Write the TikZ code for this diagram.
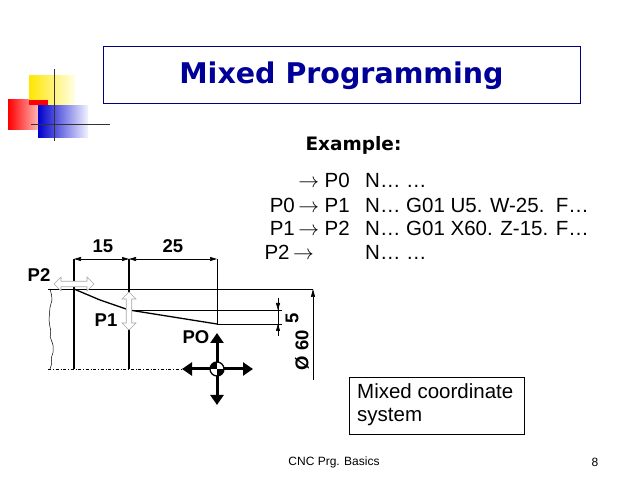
\documentclass[tikz,border=0pt]{standalone}
\usepackage{fontspec}
\setmainfont{Liberation Sans}
\newfontfamily\tah{DejaVu Sans}
\usetikzlibrary{arrows.meta,shapes.arrows,decorations.pathmorphing}
\begin{document}
\begin{tikzpicture}[x=1pt,y=-1pt,
  body/.style={font=\fontsize{20.5}{23}\selectfont,inner sep=0pt},
  lbl/.style={font=\fontsize{18.5}{19}\selectfont\bfseries,inner sep=0pt},
  dim/.style={line width=0.7pt,{Triangle[length=7pt,width=4pt]}-{Triangle[length=7pt,width=4pt]}},
  hollow/.style={double arrow,draw=gray!70,fill=white,line width=0.6pt,minimum height=40pt,minimum width=14pt,double arrow head extend=2pt,inner sep=1pt},
  thick arrow/.style={line width=3pt,-{Triangle[length=10pt,width=13pt]}}]
\useasboundingbox (0,0) rectangle (638,478);
% decoration
\shade[left color=red,right color=red!5] (8,100) rectangle (48,130);
\shade[left color=yellow!80!orange,right color=yellow!10] (29,76) rectangle (75,105);
\fill[red] (29,100) rectangle (48,105);
\shade[left color=blue!80!black,right color=blue!5] (38,106) rectangle (88,138);
\draw[line width=1pt,black!80] (54,69) -- (54,141);
\draw[line width=1pt,black!80] (31,125) -- (110,125);
% title
\node[draw=blue!50!black,line width=1pt,minimum width=477pt,minimum height=57pt,inner sep=0pt] (title) at (341.5,75.5) {};
\node[font=\tah\fontsize{28.5}{30}\selectfont\bfseries,text=blue!60!black] (tt) at (title) {Mixed Programming};
% example
\node[font=\tah\fontsize{18.5}{20}\selectfont\bfseries,anchor=west] (ex) at (302,145) {Example:};
\node[body,anchor=east] (a1) at (350,180) {$\rightarrow$ P0};
\node[body,anchor=east] (a2) at (350,205) {P0$\,\rightarrow$ P1};
\node[body,anchor=east] (a3) at (350,228) {P1$\,\rightarrow$ P2};
\node[body,anchor=east] (a4) at (314,252) {P2$\,\rightarrow$};
\node[body,anchor=west] (b1) at (365,180) {N… …};
\node[body,anchor=west] (b2) at (365,205) {N… G01 U5. W-25.\ \ F…};
\node[body,anchor=west] (b3) at (365,228) {N… G01 X60. Z-15. F…};
\node[body,anchor=west] (b4) at (365,252) {N… …};
% drawing
\coordinate (P2) at (74,289);
\coordinate (P1) at (129,310);
\coordinate (P0) at (217,324);
\coordinate (C) at (217,369);
\draw[line width=0.8pt] (48,289) -- (313,289);
\draw[decorate,decoration={random steps,segment length=6pt,amplitude=1.5pt},line width=0.5pt] (50,289) -- (52,300) -- (49,320) -- (53,345) -- (50,369);
\draw[line width=0.5pt,dash dot] (48,369) -- (205,369);
\draw[line width=1.2pt] (74,259) -- (74,369);
\draw[line width=1.2pt] (129,259) -- (129,369);
\draw[line width=0.8pt] (217,259) -- (P0);
\draw[line width=1.3pt] (P2) -- (100,300) -- (P1) -- (P0);
\draw[line width=0.6pt] (P1) -- (282,310);
\draw[line width=0.6pt] (P0) -- (282,324);
\draw[dim] (74,259) -- (129,259);
\draw[dim] (129,259) -- (217,259);
\node[lbl] (l15) at (103,246) {15};
\node[lbl] (l25) at (173,246) {25};
\draw[line width=0.6pt,{Triangle[length=7pt,width=4pt]}-] (278,310) -- (278,298);
\draw[line width=0.6pt,{Triangle[length=7pt,width=4pt]}-] (278,324) -- (278,336);
\draw[line width=0.6pt] (278,298) -- (278,336);
\node[lbl,rotate=90] (l5) at (292,318) {5};
\draw[line width=0.7pt,-{Triangle[length=8pt,width=4pt]}] (313,380) -- (313,289);
\node[lbl,rotate=90] (l60) at (302,350) {\O\ 60};
\node[lbl] (lp2) at (39,275) {P2};
\node[lbl] (lp1) at (106,320) {P1};
\node[lbl] (lp0) at (196,337) {PO};
\node[hollow] (h2) at (74,284) {};
\node[hollow,rotate=90,minimum height=38pt] (h1) at (129,311) {};
\begin{scope}
\clip (C) circle (7pt);
\fill (C) rectangle (210,362);
\fill (C) rectangle (224,376);
\end{scope}
\draw[line width=1.3pt] (C) circle (7pt);
\draw[thick arrow] (217,362) -- (217,333);
\draw[thick arrow] (217,376) -- (217,405);
\draw[thick arrow] (210,369) -- (182,369);
\draw[thick arrow] (224,369) -- (253,369);
% box
\node[draw,line width=0.6pt,minimum width=175pt,minimum height=57pt,inner sep=0pt] (mb) at (436.5,405.5) {};
\node[body,anchor=north west,align=left] (mt) at (357,383) {Mixed coordinate\\system};
% footer
\node[font=\fontsize{12}{14}\selectfont] (f1) at (334,462) {CNC Prg. Basics};
\node[font=\fontsize{12}{14}\selectfont] (f2) at (595,462) {8};
\end{tikzpicture}
\end{document}
